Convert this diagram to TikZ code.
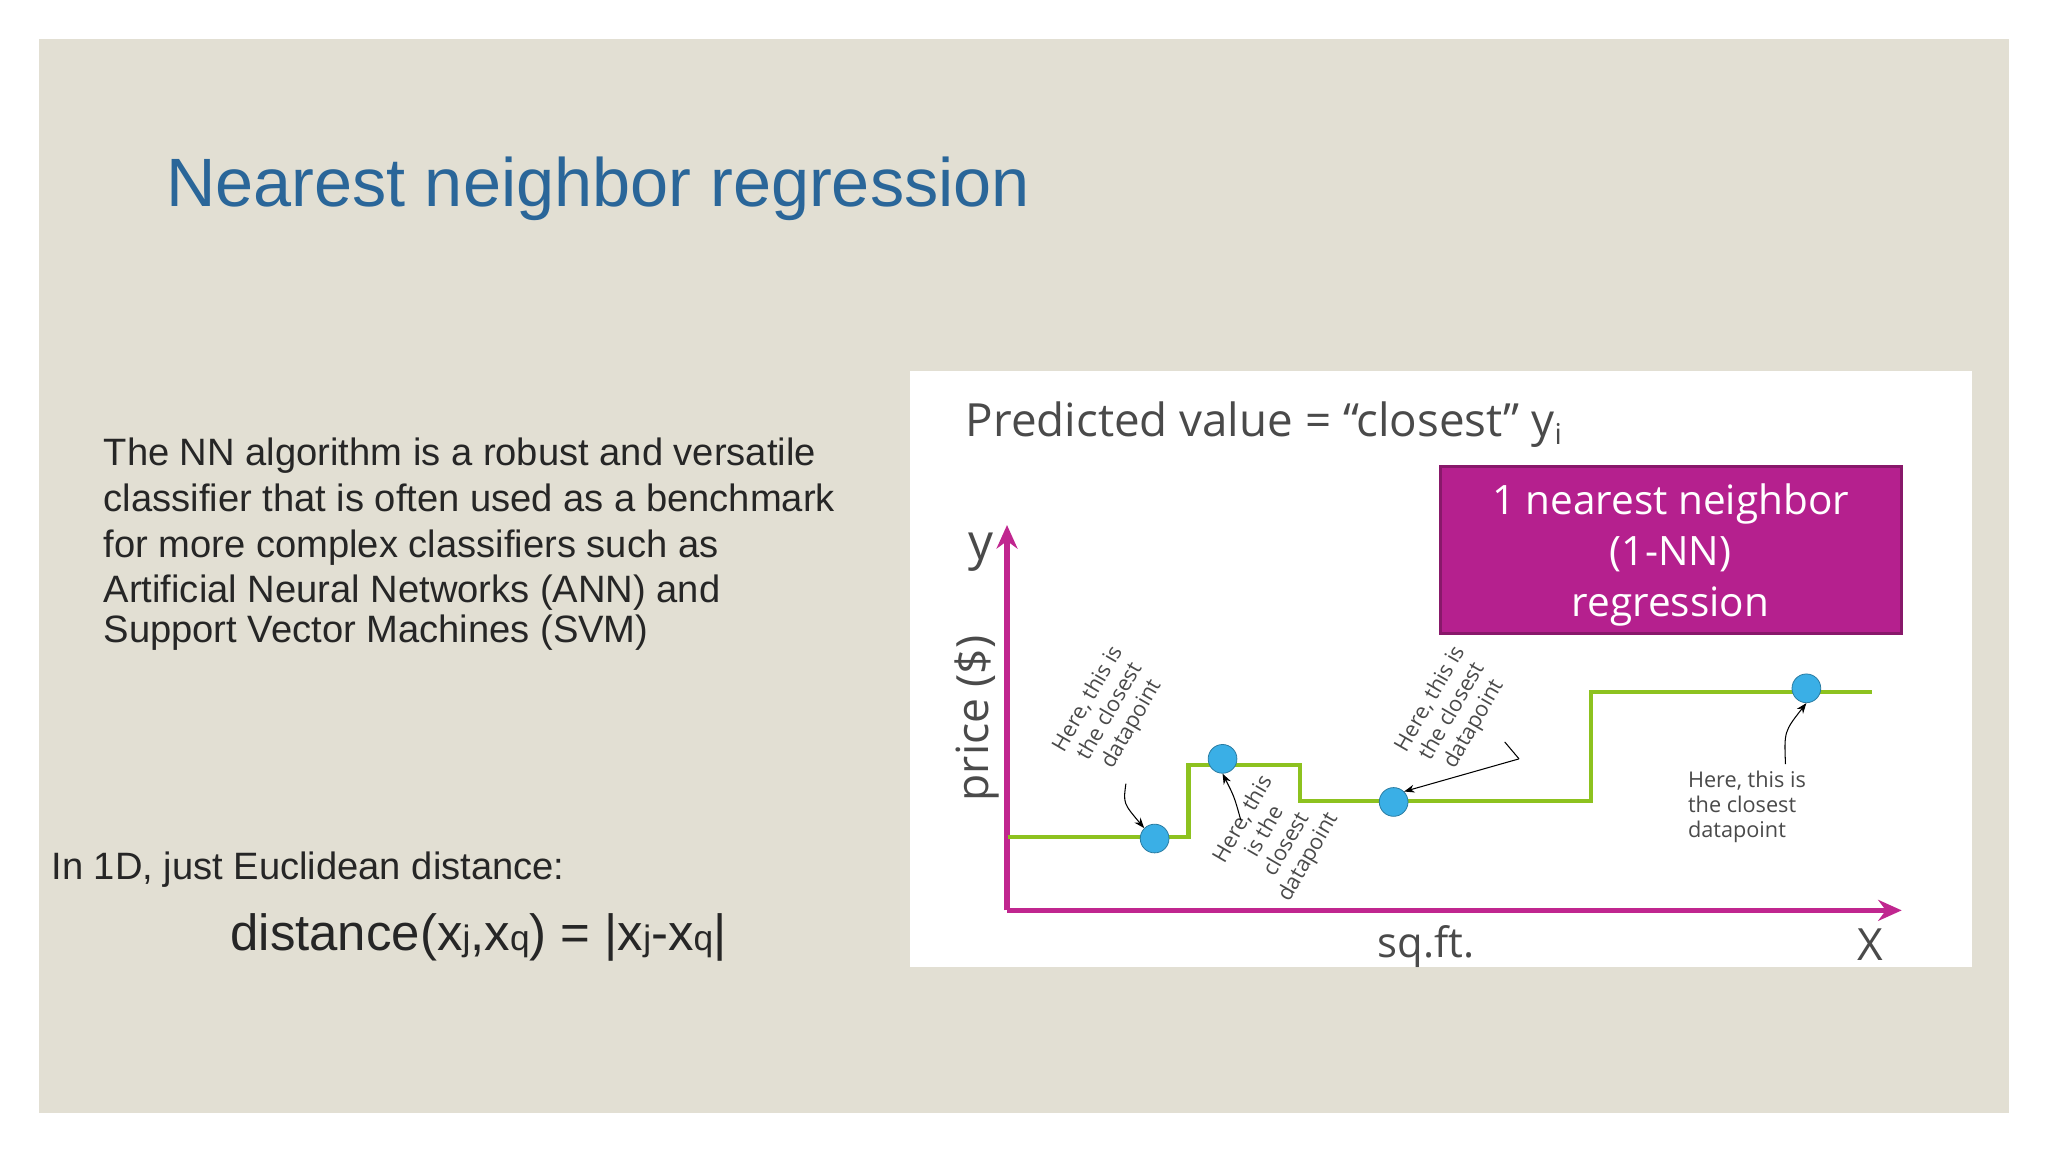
\documentclass[tikz,border=0pt]{standalone}
\usepackage{fontspec}
\setmainfont{Liberation Sans}
\newfontfamily\plotfont{Open Sans}
\usetikzlibrary{arrows.meta}
\definecolor{bg}{HTML}{E2DFD3}
\definecolor{ttl}{HTML}{2A6699}
\definecolor{mag}{HTML}{C0268F}
\definecolor{boxc}{HTML}{B5208E}
\definecolor{grn}{HTML}{8DC21F}
\definecolor{dot}{HTML}{3AAFE6}
\definecolor{gtxt}{HTML}{4A4A4A}
\tikzset{
 ann/.style={font=\plotfont\fontsize{8.3}{9.6}\selectfont, align=center, text=gtxt, inner sep=0pt},
 annarr/.style={-{Stealth[length=4pt]}, thin, black},
 dotn/.style={circle, fill=dot, draw=dot!70!black, line width=0.3pt, minimum size=11pt, inner sep=0pt},
 axis/.style={mag, line width=2pt, -{Stealth[length=9pt,width=8pt]}},
}
\begin{document}
\begin{tikzpicture}[x=0.5pt,y=-0.5pt]
\useasboundingbox (0,0) rectangle (1568,882);
\fill[white] (0,0) rectangle (1568,882);
\fill[bg] (30,30) rectangle (1538,852);
\node[anchor=base west, text=ttl, font=\fontsize{26.2}{30}\selectfont, inner sep=0pt] (title) at (127,158) {Nearest neighbor regression};
\node[anchor=north west, align=left, text=black!85, font=\fontsize{14.6}{17.5}\selectfont, inner sep=0pt] (body) at (79,335)
 {The NN algorithm is a robust and versatile\\classifier that is often used as a benchmark\\for more complex classifiers such as\\Artificial Neural Networks (ANN) and\\[-2.5pt]Support Vector Machines (SVM)};
\node[anchor=base west, text=black!85, font=\fontsize{14.6}{17}\selectfont, inner sep=0pt] (oned) at (39,673) {In 1D, just Euclidean distance:};
\node[anchor=base west, text=black!85, font=\fontsize{19.5}{22}\selectfont, inner sep=0pt] (dist) at (176,728)
 {distance(x{\fontsize{13.5}{14}\selectfont j},x{\fontsize{13.5}{14}\selectfont q}) = |x{\fontsize{13.5}{14}\selectfont j}-x{\fontsize{13.5}{14}\selectfont q}|};
% panel
\fill[white] (697,284) rectangle (1510,740);
\node[anchor=base west, text=gtxt, font=\plotfont\fontsize{17.5}{20}\selectfont, inner sep=0pt] (pred) at (739,334)
 {Predicted value = “closest” y\raisebox{-3pt}{\fontsize{11}{12}\selectfont i}};
\node[draw=boxc!75!black, fill=boxc, line width=1pt, minimum width=176.5pt, minimum height=64pt, inner sep=0pt, anchor=north west] (nnbox) at (1102,356) {};
\node[text=white, align=center, font=\plotfont\fontsize{15.5}{19.5}\selectfont, inner sep=0pt] (nntext) at (1279,425) {1 nearest neighbor\\(1-NN)\\regression};
% axes
\coordinate (O) at (771,697);
\coordinate (ytop) at (771,402);
\coordinate (xend) at (1456,697);
\draw[axis] (O) -- (ytop);
\draw[axis] (O) -- (xend);
\node[anchor=base, text=gtxt, font=\plotfont\fontsize{19}{20}\selectfont, inner sep=0pt] (ylab) at (751,428) {y};
\node[rotate=90, text=gtxt, font=\plotfont\fontsize{17}{20}\selectfont, inner sep=0pt] (price) at (748,550) {price (\$)};
\node[anchor=base, text=gtxt, font=\plotfont\fontsize{16}{18}\selectfont, inner sep=0pt] (sqft) at (1092,733) {sq.ft.};
\node[anchor=base, text=gtxt, font=\plotfont\fontsize{17}{18}\selectfont, inner sep=0pt] (xlab) at (1432,735) {X};
% step function
\draw[grn, line width=1.6pt] (772,641) -- (910,641) -- (910,586) -- (995,586) -- (995,613) -- (1218,613) -- (1218,530) -- (1433,530);
\node[dotn] (d1) at (884,642) {};
\node[dotn] (d2) at (936,581) {};
\node[dotn] (d3) at (1067,614) {};
\node[dotn] (d4) at (1383,527) {};
% annotations
\node[ann, rotate=60] (a1) at (850,545) {Here, this is\\the closest\\datapoint};
\node[ann, rotate=60] (a2) at (977,642) {Here, this\\is the\\closest\\datapoint};
\node[ann, rotate=60] (a3) at (1112,545) {Here, this is\\the closest\\datapoint};
\node[ann, align=left, anchor=north west] (a4) at (1292,590) {Here, this is\\the closest\\datapoint};
\coordinate (c1) at (862,600);
\draw[annarr] (c1) .. controls (860,615) .. (d1.north west);
\coordinate (c2) at (950,628);
\draw[annarr] (c2) .. controls (945,610) .. (d2.south);
\coordinate (c3a) at (1152,568);
\coordinate (c3b) at (1163,581);
\draw[thin] (c3a) -- (c3b);
\draw[annarr] (c3b) -- (d3.north east);
\coordinate (c4) at (1367,585);
\draw[annarr] (c4) .. controls (1366,560) .. (d4.south);
\end{tikzpicture}
\end{document}
